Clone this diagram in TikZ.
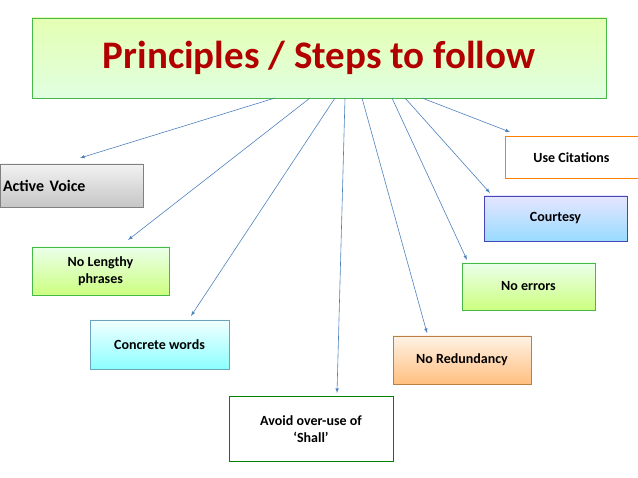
\documentclass[tikz,border=0pt]{standalone}
\usepackage{fontspec}
\setmainfont{Carlito}
\definecolor{arrc}{HTML}{4F81BD}
\begin{document}
\begin{tikzpicture}[x=1pt,y=-1pt,
 box/.style={draw=#1!45!gray, line width=0.6pt, font=\bfseries\fontsize{14}{17}\selectfont, align=center, inner sep=0pt},
 arr/.style={-latex, draw=arrc, line width=0.6pt}]
\useasboundingbox (0,0) rectangle (638,478);
\node[box=green, top color=green!35!yellow!30, bottom color=green!12!white, minimum width=574, minimum height=80, text=red!70!black, font=\bfseries\fontsize{39}{44}\selectfont] (t) at (319,58) {Principles / Steps to follow};
\node[box=gray, top color=gray!10, bottom color=gray!45, minimum width=143, minimum height=43, text width=137, align=left, font=\bfseries\fontsize{16}{19}\selectfont] (av) at (71.5,185.5) {Active Voice};
\node[draw=orange, line width=1pt, fill=white, font=\bfseries\fontsize{14}{17}\selectfont, minimum width=133, minimum height=42, inner sep=0pt] (uc) at (571.5,158) {Use Citations};
\node[box=blue, top color=blue!10, bottom color=blue!35!cyan!40, minimum width=143, minimum height=45] (co) at (555.5,218.5) {Courtesy};
\node[box=green, top color=green!8, bottom color=green!40!yellow!50, minimum width=137, minimum height=48] (nl) at (100.5,271) {No Lengthy\\phrases};
\node[box=green, top color=green!8, bottom color=green!40!yellow!50, minimum width=133, minimum height=47] (ne) at (528.5,286.5) {No errors};
\node[box=cyan, top color=cyan!5, bottom color=cyan!45, minimum width=139, minimum height=49] (cw) at (159.5,344.5) {Concrete words};
\node[box=orange, top color=orange!10, bottom color=orange!50, minimum width=138, minimum height=48] (nr) at (462,360) {No Redundancy};
\node[draw=green!50!black, line width=1pt, fill=white, font=\bfseries\fontsize{14}{17}\selectfont, align=center, minimum width=164, minimum height=65, inner sep=0pt] (sh) at (311,429.5) {Avoid over-use of\\`Shall'};
\coordinate (a1) at (275,98); \coordinate (a2) at (310,98); \coordinate (a3) at (335,98);
\coordinate (a4) at (345,98); \coordinate (a5) at (362,98); \coordinate (a6) at (392,98);
\coordinate (a7) at (405,98); \coordinate (a8) at (422,98);
\draw[arr] (a1) -- (80,158);
\draw[arr] (a2) -- (128,240);
\draw[arr] (a3) -- (191,316);
\draw[arr] (a4) -- (337,393);
\draw[arr] (a5) -- (427,333);
\draw[arr] (a6) -- (467,260);
\draw[arr] (a7) -- (490,193);
\draw[arr] (a8) -- (510,132);
\end{tikzpicture}
\end{document}
